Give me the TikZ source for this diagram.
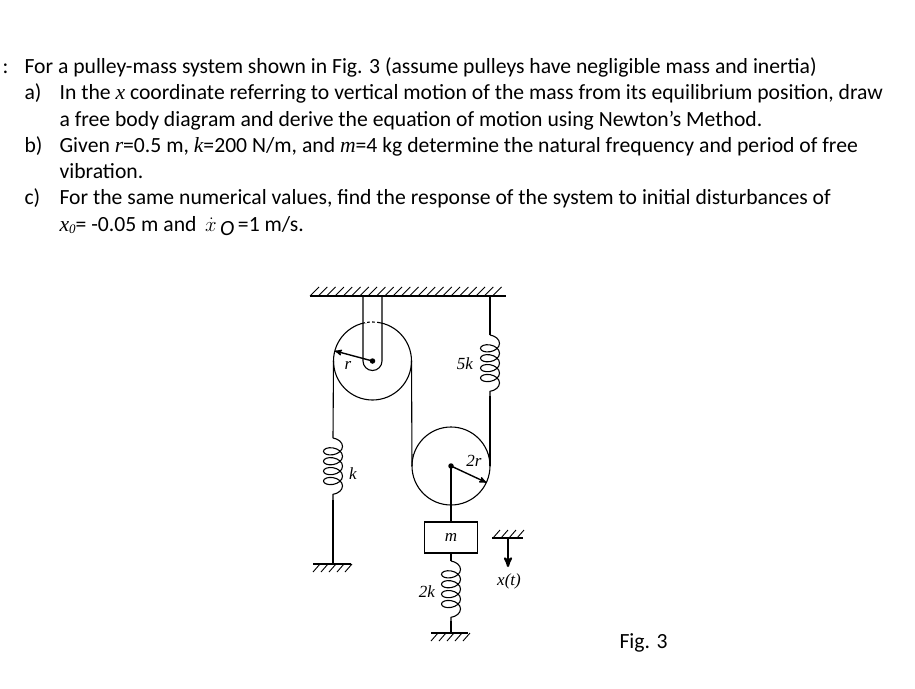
\documentclass[tikz,border=0pt]{standalone}
\usepackage{fontspec}
\setmainfont{Carlito}
\newfontfamily\figfont{Liberation Serif}
\usepackage{amsmath}
\usetikzlibrary{arrows}
\usetikzlibrary{positioning}
\usetikzlibrary{decorations.pathmorphing}
\newcommand{\vv}[1]{{\figfont\itshape #1}}
\tikzset{
    textline/.style = {anchor=base west, inner sep=0pt, font=\fontsize{21.65}{24}\selectfont},
    figlabel/.style = {inner sep=0pt, font=\figfont\itshape\fontsize{17}{19}\selectfont},
    pulley/.style = {draw, circle, minimum size=78pt, inner sep=0pt, outer sep=0pt},
    pivot/.style = {fill, circle, minimum size=5.5pt, inner sep=0pt, outer sep=0pt},
    block/.style = {draw, minimum width=53pt, minimum height=31pt, inner sep=0pt, outer sep=0pt},
    spring/.style = {decorate, decoration={coil, aspect=0.62, segment length=9.9pt, amplitude=9.5pt}},
    hatch/.style = {line width=0.9pt},
}
\begin{document}
\begin{tikzpicture}[x=1pt,y=-1pt,>=stealth',line width=1.1pt]
\useasboundingbox (0,0) rectangle (915,688);
% problem text
\node (colon) [textline] at (2,73) {:};
\node (q0) [textline] at (24,73) {For a pulley-mass system shown in Fig. 3 (assume pulleys have negligible mass and inertia)};
\node (qa) [textline] at (24,99) {a)};
\node (qa1) [textline] at (59,99) {In the \vv{x} coordinate referring to vertical motion of the mass from its equilibrium position, draw};
\node (qa2) [textline] at (59,126) {a free body diagram and derive the equation of motion using Newton’s Method.};
\node (qb) [textline] at (24,152) {b)};
\node (qb1) [textline] at (59,152) {Given \vv{r}=0.5 m, \vv{k}=200 N/m, and \vv{m}=4 kg determine the natural frequency and period of free};
\node (qb2) [textline] at (59,178) {vibration.};
\node (qc) [textline] at (24,204) {c)};
\node (qc1) [textline] at (59,204) {For the same numerical values, find the response of the system to initial disturbances of};
\node (qc2) [textline] at (59,231) {\vv{x}{\figfont\itshape\fontsize{13}{13}\selectfont\raisebox{-2pt}{0}}= -0.05 m and\, $\dot{x}$\,\raisebox{-4pt}{\itshape O}\,=1 m/s.};
\node (figcap) [textline] at (619,648) {Fig. 3};
% pulleys and mass
\node (pulleyA) [pulley] at (372.5,361) {};
\node (pulleyB) [pulley] at (451,466) {};
\node (mass) [block,below=17pt of pulleyB,figlabel] {m};
\node (pivotA) [pivot] at (pulleyA.center) {};
\node (pivotB) [pivot] at (pulleyB.center) {};
% fixed points
\coordinate (ceilL) at (310,296);
\coordinate (ceilR) at (506,296);
\coordinate (armL) at (363,296);
\coordinate (armR) at (382,296);
\coordinate (anchor5k) at (490,296);
\coordinate (top5k) at (490,335);
\coordinate (bot5k) at (490,396);
\coordinate (topK) at (333,438);
\coordinate (botK) at (333,500);
\coordinate (baseK) at (333,564);
\coordinate (top2k) at (451,561);
\coordinate (bot2k) at (451,621);
\coordinate (base2k) at (451,633);
\coordinate (refX) at (508,538);
\coordinate (tipX) at (508,567);
% supports
\draw (ceilL) -- (ceilR);
\foreach \hx in {310,318.3,...,500} \draw[hatch] (\hx,296) -- ++(9,-9);
\draw (313,564) -- (351,564);
\foreach \hx in {320,328,...,352} \draw[hatch] (\hx,564) -- ++(-7,8);
\draw (431,633) -- (468,633);
\foreach \hx in {438,446,...,470} \draw[hatch] (\hx,633) -- ++(-7,8);
\draw (492,538) -- (523,538);
\foreach \hx in {493,501,...,517} \draw[hatch] (\hx,538) -- ++(7,-8);
% arm of the upper pulley
\draw (armL) -- (363,361) arc[start angle=180,end angle=360,radius=9.5pt] -- (armR);
\draw[white,dash pattern=on 2pt off 3pt] (365,322) -- (380,322);
% ropes and springs
\draw (pulleyA.west) -- (topK);
\draw[spring] (topK) -- (botK);
\draw (botK) -- (baseK);
\draw (pulleyA.east) -- (pulleyB.west);
\draw (anchor5k) -- (top5k);
\draw[spring] (top5k) -- (bot5k);
\draw (bot5k) -- (pulleyB.east);
\draw (pulleyB.center) -- (mass.north);
\draw (mass.south) -- (top2k);
\draw[spring] (top2k) -- (bot2k);
\draw (bot2k) -- (base2k);
% radius and motion arrows
\draw[->,line width=1.4pt] (pivotA.center) -- (pulleyA.165);
\draw[->,line width=1.4pt] (pivotB.center) -- (pulleyB.-25);
\draw[->,line width=2.2pt] (refX) -- (tipX);
% labels
\node (lblr) [figlabel] at (348,365) {r};
\node (lbl5k) [figlabel] at (465,364) {5k};
\node (lbl2r) [figlabel] at (474,461) {2r};
\node (lblk) [figlabel] at (353,474) {k};
\node (lbl2k) [figlabel] at (427,592) {2k};
\node (lblx) [figlabel] at (509,581) {x(t)};
\end{tikzpicture}
\end{document}
